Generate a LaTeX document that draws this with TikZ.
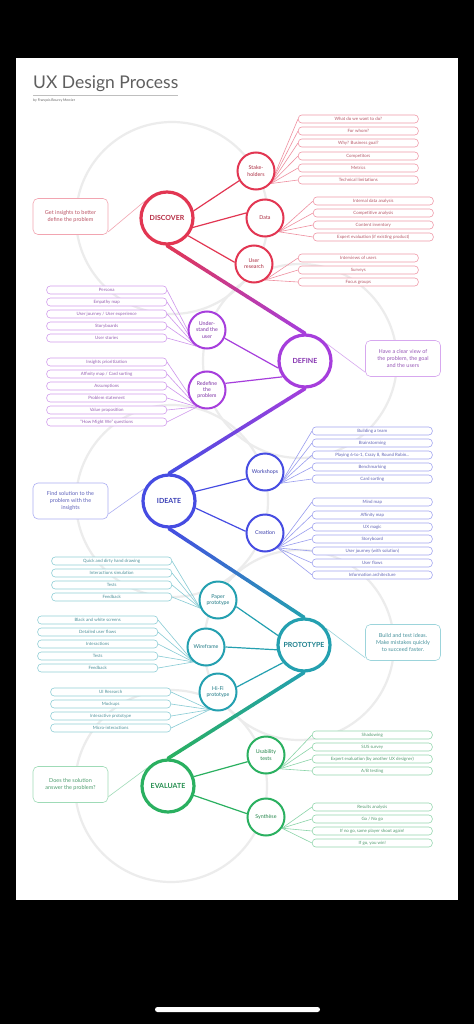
\documentclass[tikz,border=0pt]{standalone}
\usepackage{fontspec}
\setmainfont{Lato}
\usetikzlibrary{calc}
\pgfdeclarelayer{back}
\pgfdeclarelayer{mid}
\pgfsetlayers{back,mid,main}
\definecolor{cD}{RGB}{226,54,82}
\definecolor{cF}{RGB}{166,62,220}
\definecolor{cI}{RGB}{70,76,226}
\definecolor{cP}{RGB}{36,160,176}
\definecolor{cE}{RGB}{42,176,96}
\definecolor{ring}{RGB}{236,236,236}
\definecolor{ttl}{RGB}{95,95,95}
\tikzset{
 stage/.style={circle, draw=#1, line width=3.2pt, fill=white, minimum size=52pt, inner sep=0pt, text=#1!80!black, font=\fontsize{7}{8}\selectfont\bfseries},
 subn/.style={circle, draw=#1, line width=2pt, fill=white, minimum size=37pt, inner sep=0pt, text=#1!75!black, font=\fontsize{5.3}{6.2}\selectfont, align=center},
 itembox/.style={draw=#1!50, line width=0.6pt, rounded corners=3.5pt, fill=white, minimum width=120pt, minimum height=8pt, inner sep=0pt, text=#1!55!gray, font=\fontsize{4.4}{5}\selectfont},
 fanline/.style={draw=#1!55, line width=0.6pt},
 link/.style={draw=#1, line width=1.2pt},
 note/.style={draw=#1!45, line width=0.6pt, rounded corners=5pt, fill=white, minimum width=75pt, minimum height=36pt, inner sep=1pt, text=#1!60!gray, font=\fontsize{5.5}{7}\selectfont, align=center},
 noteline/.style={draw=#1!45, line width=0.6pt},
 ringline/.style={draw=ring, line width=2.2pt},
}
\newcommand\gradline[4]{%
 \foreach \k in {0,...,23}{%
  \pgfmathsetmacro\ta{\k/24}%
  \pgfmathsetmacro\tb{(\k+1)/24}%
  \pgfmathtruncatemacro\pc{100-(\k+0.5)*100/24}%
  \draw[line width=3.6pt, line cap=round, color=#3!\pc!#4] ($(#1)!\ta!(#2)$) -- ($(#1)!\tb!(#2)$);
 }}
\newcommand\fan[6]{%
 \foreach \yy/\txt [count=\nn] in {#6}{%
  \node[itembox=#1, anchor=#4] (#2-\nn) at (#5,\yy) {\txt};
  \begin{pgfonlayer}{mid}
  \draw[fanline=#1] (#2.#3) -- (#2-\nn.#4);
  \end{pgfonlayer}
 }}
\begin{document}
\begin{tikzpicture}[x=1pt,y=-1pt]
\useasboundingbox (0,0) rectangle (474,1024);
\begin{pgfonlayer}{back}
\fill[black] (0,0) rectangle (474,1024);
\fill[white] (16,58) rectangle (458,900);
\fill[white, rounded corners=2.5pt] (155,1007) rectangle (320,1012);
\draw[ringline] (172,218) circle (96);
\draw[ringline] (300,361) circle (97);
\draw[ringline] (172,501) circle (96);
\draw[ringline] (299,645) circle (95);
\draw[ringline] (171,786) circle (96);
\end{pgfonlayer}

% title
\node[anchor=base west, text=ttl, font=\fontsize{17.5}{19}\selectfont, inner sep=0pt] (T) at (33,89) {UX Design Process};
\node[anchor=base west, text=ttl, font=\fontsize{3.5}{4}\selectfont, inner sep=0pt] (ST) at (33,102) {by François Bourcy Mercier};
\draw[ttl!40, line width=0.5pt] (33,95) -- (178,95);

% stages
\node[stage=cD] (D) at (167,218) {DISCOVER};
\node[stage=cF] (F) at (305,361) {DEFINE};
\node[stage=cI] (I) at (169,501) {IDEATE};
\node[stage=cP] (P) at (304,645) {PROTOTYPE};
\node[stage=cE] (E) at (168,786) {EVALUATE};

% sub nodes
\node[subn=cD] (S) at (256,171) {Stake-\\holders};
\node[subn=cD] (Da) at (265,218) {Data};
\node[subn=cD] (U) at (254,264) {User\\research};
\node[subn=cF] (Un) at (207,330) {Under-\\stand the\\user};
\node[subn=cF] (R) at (207,390) {Redefine\\the\\problem};
\node[subn=cI] (W) at (265,472) {Workshops};
\node[subn=cI] (C) at (265,533) {Creation};
\node[subn=cP] (Pa) at (218,600) {Paper\\prototype};
\node[subn=cP] (Wi) at (206,647) {Wireframe};
\node[subn=cP] (H) at (218,692) {Hi-Fi\\prototype};
\node[subn=cE] (Us) at (266,755) {Usability\\tests};
\node[subn=cE] (Sy) at (266,817) {Synthèse};

% notes
\node[note=cD] (DC) at (70.5,216.5) {Get insights to better\\define the problem};
\node[note=cF] (FC) at (403,358.5) {Have a clear view of\\the problem, the goal\\and the users};
\node[note=cI] (IC) at (70.5,501) {Find solution to the\\problem with the\\insights};
\node[note=cP] (PC) at (403,642.5) {Build and test ideas.\\Make mistakes quickly\\to succeed faster.};
\node[note=cE] (EC) at (70.5,784.5) {Does the solution\\answer the problem?};

% lists
\fan{cD}{S}{-40}{west}{298}{119/{What do we want to do?},131/{For whom?},143/{Why? Business goal?},156/Competitors,168/Metrics,180/{Technical limitations}}
\fan{cD}{Da}{-45}{west}{313}{201/{Internal data analysis},213/{Competitive analysis},225/{Content inventory},237/{Expert evaluation (if existing product)}}
\fan{cD}{U}{-55}{west}{298}{258/{Interviews of users},270/Surveys,282/{Focus groups}}
\fan{cF}{Un}{235}{east}{167}{290/Persona,302/{Empathy map},314/{User journey / User experience},326/Storyboards,338/{User stories}}
\fan{cF}{R}{240}{east}{167}{362/{Insights prioritization},374/{Affinity map / Card sorting},386/Assumptions,398/{Problem statement},410/{Value proposition},422/{“How Might We” questions}}
\fan{cI}{W}{-35}{west}{312}{431/{Building a team},443/Brainstorming,455/{Playing 6-to-1, Crazy 8, Round Robin...},467/Benchmarking,479/{Card sorting}}
\fan{cI}{C}{-50}{west}{312}{502/{Mind map},515/{Affinity map},527/{UX magic},539/Storyboard,551/{User journey (with solution)},563/{User flows},575/{Information architecture}}
\fan{cP}{Pa}{205}{east}{172}{561/{Quick and dirty hand drawing},573/{Interactions simulation},585/Tests,597/Feedback}
\fan{cP}{Wi}{230}{east}{158}{620/{Black and white screens},632/{Detailed user flows},644/Interactions,656/Tests,668/Feedback}
\fan{cP}{H}{245}{east}{171}{692/{UI Research},704/Mockups,716/{Interactive prototype},728/{Micro-interactions}}
\fan{cE}{Us}{-45}{west}{312}{735/Shadowing,747/{SUS survey},759/{Expert evaluation (by another UX designer)},771/{A/B testing}}
\fan{cE}{Sy}{-35}{west}{312}{807/{Results analysis},819/{Go / No go},831/{If no go, same player shoot again!},843/{If go, you win!}}

\begin{pgfonlayer}{mid}
% main zigzag
\gradline{D.south}{F.north}{cD}{cF}
\gradline{F.south}{I.north}{cF}{cI}
\gradline{I.south}{P.north}{cI}{cP}
\gradline{P.south}{E.north}{cP}{cE}
% stage to sub links
\draw[link=cD] (D.15) -- (S.210);
\draw[link=cD] (D.-20) -- (Da.165);
\draw[link=cD] (D.-40) -- (U.175);
\draw[link=cF] (F.195) -- (Un.-25);
\draw[link=cF] (F.215) -- (R.20);
\draw[link=cI] (I.20) -- (W.200);
\draw[link=cI] (I.-15) -- (C.175);
\draw[link=cP] (P.160) -- (Pa.-20);
\draw[link=cP] (P.190) -- (Wi.0);
\draw[link=cP] (P.220) -- (H.15);
\draw[link=cE] (E.20) -- (Us.200);
\draw[link=cE] (E.-20) -- (Sy.170);
% note links
\draw[noteline=cD] (DC.-22) -- (D.140);
\draw[noteline=cF] (FC.200) -- (F.40);
\draw[noteline=cI] (IC.-19) -- (I.153);
\draw[noteline=cP] (PC.202) -- (P.38);
\draw[noteline=cE] (EC.-18) -- (E.139);
\end{pgfonlayer}
\end{tikzpicture}
\end{document}
